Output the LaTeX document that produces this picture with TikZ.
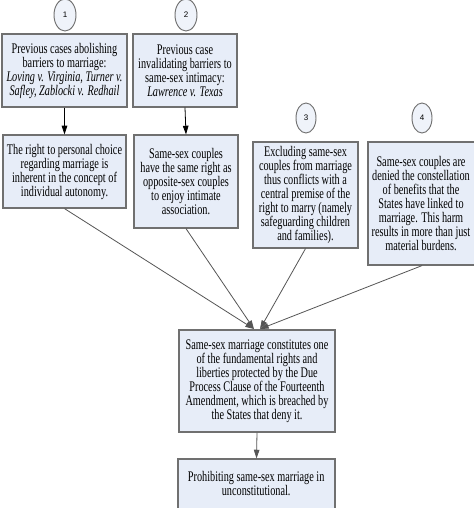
\documentclass[tikz,border=0pt]{standalone}
\usepackage{fontspec}
\setmainfont{Liberation Serif}[FakeStretch=0.7]
\newfontfamily\numfont{Liberation Sans}
\usetikzlibrary{shapes.geometric,arrows.meta,fit}
\definecolor{boxfill}{HTML}{E7EDF8}
\definecolor{boxline}{HTML}{707070}
\definecolor{circfill}{HTML}{EFF3FA}
\definecolor{linkgray}{HTML}{555555}
\newcommand\myboxfont{\fontsize{11pt}{10.5pt}\selectfont\lineskiplimit=-5pt\relax}
\tikzset{
  box/.style={draw=boxline, line width=0.9pt, fill=boxfill, inner sep=0pt, align=center},
  txt/.style={align=center, inner sep=0pt, font=\myboxfont},
  numcirc/.style={ellipse, draw=boxline, line width=0.7pt, fill=circfill, inner sep=0pt,
    font=\numfont\fontsize{6pt}{7pt}\selectfont},
  arr/.style={-{Triangle[width=4.2pt,length=6.5pt]}, line width=0.6pt},
  link/.style={arr, draw=linkgray}
}
\begin{document}
\begin{tikzpicture}[x=0.75pt,y=-0.75pt]
\useasboundingbox (0,0) rectangle (474,508);
\clip (0,0) rectangle (474,508);
\fill[white] (0,0) rectangle (474,508);

\node[numcirc, minimum width=16.5pt, minimum height=24pt] (c1) at (65,15) {1};
\node[numcirc, minimum width=16.5pt, minimum height=24pt] (c2) at (186,15) {2};
\node[numcirc, minimum width=15pt, minimum height=22.5pt] (c3) at (306,118) {3};
\node[numcirc, minimum width=15pt, minimum height=22.5pt] (c4) at (422,118) {4};

\node[box, fit={(2,34)(127,107)}] (b1) {};
\node[txt] at (b1.center) (t1)
  {Previous cases abolishing\\ barriers to marriage:\\ \textit{Loving v. Virginia, Turner v.}\\ \textit{Safley, Zablocki v. Redhail}};

\node[box, fit={(133,34)(237,107)}] (b2) {};
\node[txt] at (b2.center) (t2)
  {Previous case\\ invalidating barriers to\\ same-sex intimacy:\\ \textit{Lawrence v. Texas}};

\node[box, fit={(3,135)(126,208)}] (b3) {};
\node[txt] at (b3.center) (t3)
  {The right to personal choice\\ regarding marriage is\\ inherent in the concept of\\ individual autonomy.};

\node[box, fit={(134,135)(238,228)}] (b4) {};
\node[txt] at (b4.center) (t4)
  {Same-sex couples\\ have the same right as\\ opposite-sex couples\\ to enjoy intimate\\ association.};

\node[box, fit={(253,142)(358,248)}] (b5) {};
\node[txt] at (b5.center) (t5)
  {Excluding same-sex\\ couples from marriage\\ thus conflicts with a\\ central premise of the\\ right to marry (namely\\ safeguarding children\\ and families).};

\node[box, fit={(368,142)(476,265)}] (b6) {};
\node[txt] at ([xshift=-0.75pt]b6.center) (t6)
  {Same-sex couples are\\ denied the constellation\\ of benefits that the\\ States have linked to\\ marriage. This harm\\ results in more than just\\ material burdens.};

\node[box, fit={(179,330)(335,432)}] (b7) {};
\node[txt] at (b7.center) (t7)
  {Same-sex marriage constitutes one\\ of the fundamental rights and\\ liberties protected by the Due\\ Process Clause of the Fourteenth\\ Amendment, which is breached by\\ the States that deny it.};

\node[box, fit={(178,459)(335,512)}] (b8) {};
\node[txt, anchor=north west, minimum width=117.75pt, minimum height=37pt] at (b8.north west) (t8)
  {Prohibiting same-sex marriage in\\ unconstitutional.};

\coordinate (e1) at (254,329);
\coordinate (e2) at (260,329);

\draw[arr] (b1.south) -- (b3.north);
\draw[arr] (b2.south) -- (b4.north);
\draw[link] (b3.south) -- (e1);
\draw[link] (b4.south) -- (e1);
\draw[link] (b5.south) -- (e2);
\draw[link] (b6.south) -- (e2);
\draw[arr, draw=linkgray] (b7.south) -- (b8.north);
\end{tikzpicture}
\end{document}
